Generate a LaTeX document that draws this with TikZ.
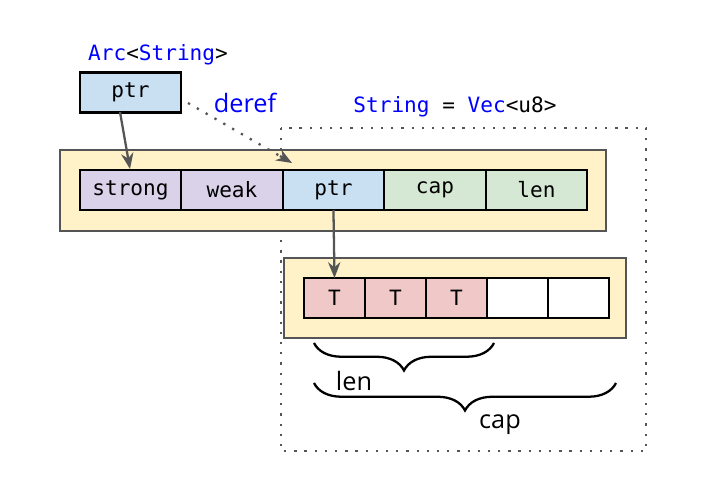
\documentclass[tikz,border=0pt]{standalone}
\usepackage{fontspec}
\setmainfont{Open Sans}
\newfontfamily\codefont{DejaVu Sans Mono}
\usetikzlibrary{positioning,decorations.pathreplacing,arrows.meta}
\definecolor{ptrblue}{HTML}{C9DFF2}
\definecolor{cntpurple}{HTML}{D9D2E9}
\definecolor{vecgreen}{HTML}{D5E8D4}
\definecolor{elempink}{HTML}{F0C8C8}
\definecolor{heapyellow}{HTML}{FFF2C8}
\definecolor{edgegray}{HTML}{555555}
\definecolor{codeblue}{HTML}{0000FF}
\tikzset{
  cell/.style={draw=black, line width=1.2pt, fill=white, minimum height=0.8cm,
    inner sep=0pt, outer sep=0pt, font=\codefont\large},
  wide/.style={cell, minimum width=2.03cm},
  narrow/.style={cell, minimum width=1.22cm},
  heap/.style={draw=edgegray, line width=1.2pt, fill=heapyellow},
  link/.style={draw=edgegray, line width=1.3pt, -{Stealth[length=9pt,width=7pt]}},
  dots/.style={draw=edgegray, line width=1.3pt, dash pattern=on 1.3pt off 4.5pt},
  brc/.style={decorate, decoration={brace, amplitude=0.55cm, aspect=0.5}, line width=1.3pt}
}
\begin{document}
\begin{tikzpicture}[x=0.02cm, y=-0.02cm]
  \useasboundingbox (0,0) rectangle (728,486);
  % string box
  \draw[dots] (281,128) rectangle (646,451);
  \node[font=\codefont\large] (vectitle) at (455,107)
    {\textcolor{codeblue}{String} = \textcolor{codeblue}{Vec}<u8>};
  % heap blocks
  \draw[heap] (60,150) rectangle (606,231);
  \draw[heap] (284,258) rectangle (626,338);
  % arc pointer
  \node[font=\codefont\large] (arctitle) at (158,55)
    {\textcolor{codeblue}{Arc}<\textcolor{codeblue}{String}>};
  \node[wide, fill=ptrblue] (arcptr) at (130.5,92.5) {ptr};
  % arc inner
  \node[wide, fill=cntpurple] (strong) at (130.5,190) {strong};
  \node[wide, fill=cntpurple, right=0pt of strong] (weak) {weak};
  \node[wide, fill=ptrblue, right=0pt of weak] (vecptr) {ptr};
  \node[wide, fill=vecgreen, right=0pt of vecptr] (cap) {cap};
  \node[wide, fill=vecgreen, right=0pt of cap] (len) {len};
  % elements
  \node[narrow, fill=elempink] (e1) at (334.5,298) {T};
  \node[narrow, fill=elempink, right=0pt of e1] (e2) {T};
  \node[narrow, fill=elempink, right=0pt of e2] (e3) {T};
  \node[narrow, right=0pt of e3] (e4) {};
  \node[narrow, right=0pt of e4] (e5) {};
  % pointers
  \coordinate (a0) at (120,112);
  \coordinate (a1) at (130,169);
  \draw[link] (a0) -- (a1);
  \coordinate (d0) at (188,103);
  \coordinate (d1) at (292,163);
  \draw[dots] (d0) -- (d1);
  \draw[link] (280,156) -- (d1);
  \node[font=\Large, text=codeblue] (deref) at (245,103) {deref};
  \draw[link] (vecptr.south) -- (e1.north);
  % braces
  \coordinate (lenR) at (494,343); \coordinate (lenL) at (314,343);
  \coordinate (capR) at (616,383); \coordinate (capL) at (314,383);
  \draw[brc] (lenR) -- (lenL);
  \draw[brc] (capR) -- (capL);
  \node[font=\Large] (lenlbl) at (354,381) {len};
  \node[font=\Large] (caplbl) at (500,425) {cap};
\end{tikzpicture}
\end{document}
